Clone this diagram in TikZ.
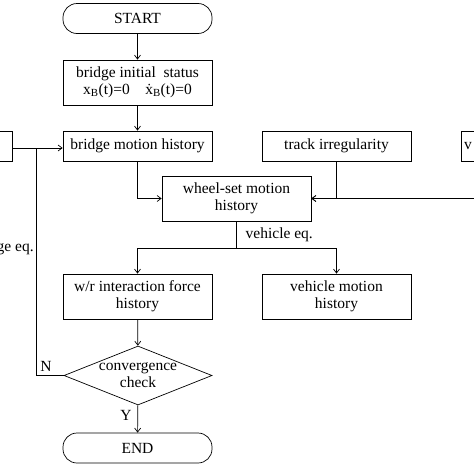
\documentclass[tikz,border=0pt]{standalone}
\usepackage{fontspec}
\setmainfont{Liberation Serif}
\usetikzlibrary{arrows.meta,shapes.geometric}
\tikzset{
  base/.style={font=\fontsize{15.5}{17}\selectfont},
  box/.style={base, draw, minimum width=149pt, minimum height=30pt, inner sep=2pt, align=center},
  tall/.style={box, minimum height=45pt},
  term/.style={box, rounded corners=14pt},
  decision/.style={draw, diamond, minimum width=148pt, minimum height=59pt, inner sep=0pt},
  arr/.style={-{Straight Barb[length=4pt,width=6pt]}},
  bold line/.style={line width=1.2pt}
}
\begin{document}
\begin{tikzpicture}[x=1pt,y=-1pt,line width=0.7pt]
\useasboundingbox (0,0) rectangle (474,474);
\clip (0,0) rectangle (474,474);
\fill[white] (0,0) rectangle (474,474);

\node[term] (start) at (137.5,18.5) {START};
\node[tall] (bis) at (137.5,82.5) {bridge initial\ \ status\\ x\textsubscript{B}(t)=0\quad \.x\textsubscript{B}(t)=0};
\node[box] (bmh) at (137.5,146) {bridge motion history};
\node[box] (left) at (-62.5,146) {};
\node[box] (track) at (336.5,146) {track irregularity};
\node[box, text width=143pt, align=left] (right) at (535.5,146) {v};
\node[tall] (ws) at (236.5,198.5) {wheel-set motion\\history};
\node[tall] (wr) at (137.5,296.5) {w/r interaction force\\history};
\node[tall] (vm) at (336.5,296.5) {vehicle motion\\history};
\node[decision] (dia) at (138,375.5) {};
\node[base, align=center] (diatext) at (dia.center) {convergence\\check};
\node[term] (end) at (137.5,448) {END};

\node[base, anchor=east, inner sep=0pt] (beq) at (34,249) {ge eq.};
\node[base, anchor=west] (veq) at (242,235) {vehicle eq.};
\node[base] (nlab) at (46,366) {N};
\node[base] (ylab) at (126,415) {Y};

\draw[arr] (start) -- (bis);
\draw[arr] (bis) -- (bmh);
\draw[arr] (left.east |- 0,148) -- (bmh.west |- 0,148);
\draw (dia.west) -| (36,148);
\draw[arr] (bmh.south) |- (ws.west);
\draw[arr] (track.south) |- (ws.east);
\draw[arr] (right.south) |- (ws.east);
\draw[bold line] (ws.south) -- ++(0,27) coordinate (j);
\draw[bold line] (wr.north |- j) -- (vm.north |- j);
\draw[arr] (wr.north |- j) -- (wr.north);
\draw[arr] (vm.north |- j) -- (vm.north);
\draw[arr] (wr) -- (dia);
\draw[arr] (dia) -- (end);
\end{tikzpicture}
\end{document}
